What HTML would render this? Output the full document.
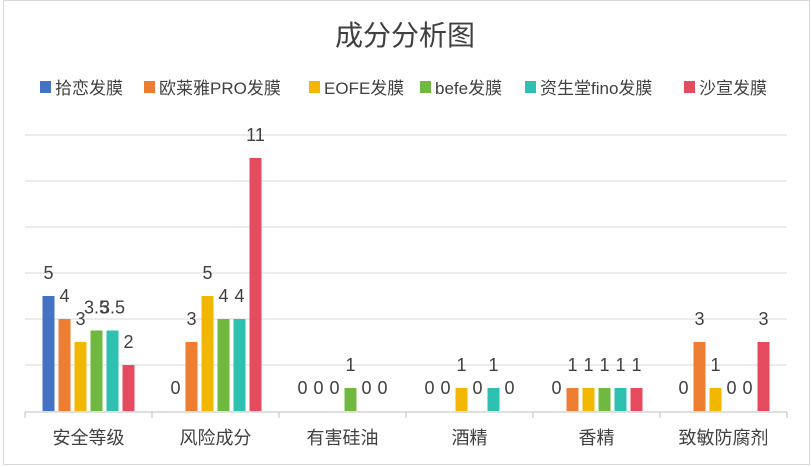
<!DOCTYPE html>
<html><head><meta charset="utf-8"><style>
body{margin:0;background:#fff;}
svg{display:block;font-family:"Liberation Sans","Noto Sans CJK SC",sans-serif;}
</style></head><body>
<svg id="chart" width="811" height="467">
<rect x="3.5" y="0.5" width="806" height="464" fill="#fff" stroke="#d9d9d9"/>
<text x="405" y="45" text-anchor="middle" font-size="28" fill="#404040">成分分析图</text>
<g id="grid"></g><g id="legend"></g><g id="bars"></g>
</svg>
<script>
const categories=["安全等级","风险成分","有害硅油","酒精","香精","致敏防腐剂"];
const seriesNames=["拾恋发膜","欧莱雅PRO发膜","EOFE发膜","befe发膜","资生堂fino发膜","沙宣发膜"];
const s1=[5,0,0,0,0,0];
const s2=[4,3,0,0,1,3];
const s3=[3,5,0,1,1,1];
const s4=[3.5,4,1,0,1,0];
const s5=[3.5,4,0,1,1,0];
const s6=[2,11,0,0,1,3];
const seriesValues=[s1,s2,s3,s4,s5,s6];
const gridTicks=[2,4,6,8,10,12];
const colors=["#4472c4","#ed7d31","#f2b700","#70b840","#2ec0b0","#e44b5e"];
const NS="http://www.w3.org/2000/svg";
const X0=25,X1=787,Y0=411,UNIT=23;
const cw=(X1-X0)/categories.length;
const y=v=>Y0-v*UNIT;
function mk(t,a,p){const e=document.createElementNS(NS,t);for(const k in a)e.setAttribute(k,a[k]);p.appendChild(e);return e;}
const grid=document.getElementById('grid');
gridTicks.forEach(t=>{const l=mk('line',{x1:X0,x2:X1,y1:y(t),y2:y(t),stroke:'#d9d9d9'},grid);

});
const ax=mk('line',{x1:X0,x2:X1,y1:Y0+1,y2:Y0+1,stroke:'#bfbfbf'},grid);


for(let i=0;i<=categories.length;i++){const tk=mk('line',{x1:X0+i*cw,x2:X0+i*cw,y1:Y0+1,y2:Y0+7,stroke:'#bfbfbf'},grid);

}
const bars=document.getElementById('bars');
categories.forEach((c,i)=>{
 const cx=X0+cw*(i+0.5);
 const lab=mk('text',{x:cx,y:444,'text-anchor':'middle','font-size':18,fill:'#404040'},bars);lab.textContent=c;
 
 
 seriesValues.forEach((sv,j)=>{
  const bx=cx-46+j*16, v=sv[i];
  const r=mk('rect',{x:bx,y:y(v),width:12,height:v*UNIT,fill:colors[j]},bars);
  
  
  const t=mk('text',{x:bx+6,y:y(v)-17,'text-anchor':'middle','font-size':18,fill:'#404040'},bars);t.textContent=String(v);
  
  
 });
});
const legendX=[40,144,309,420,525,684];
const lg=document.getElementById('legend');
seriesNames.forEach((n,j)=>{
 const g=mk('g',{},lg);
 
 
 mk('rect',{x:legendX[j],y:81,width:11,height:12,fill:colors[j]},g);
 const t=mk('text',{x:legendX[j]+15,y:94,'font-size':17,fill:'#404040'},g);t.textContent=n;
});
</script>
</body></html>
